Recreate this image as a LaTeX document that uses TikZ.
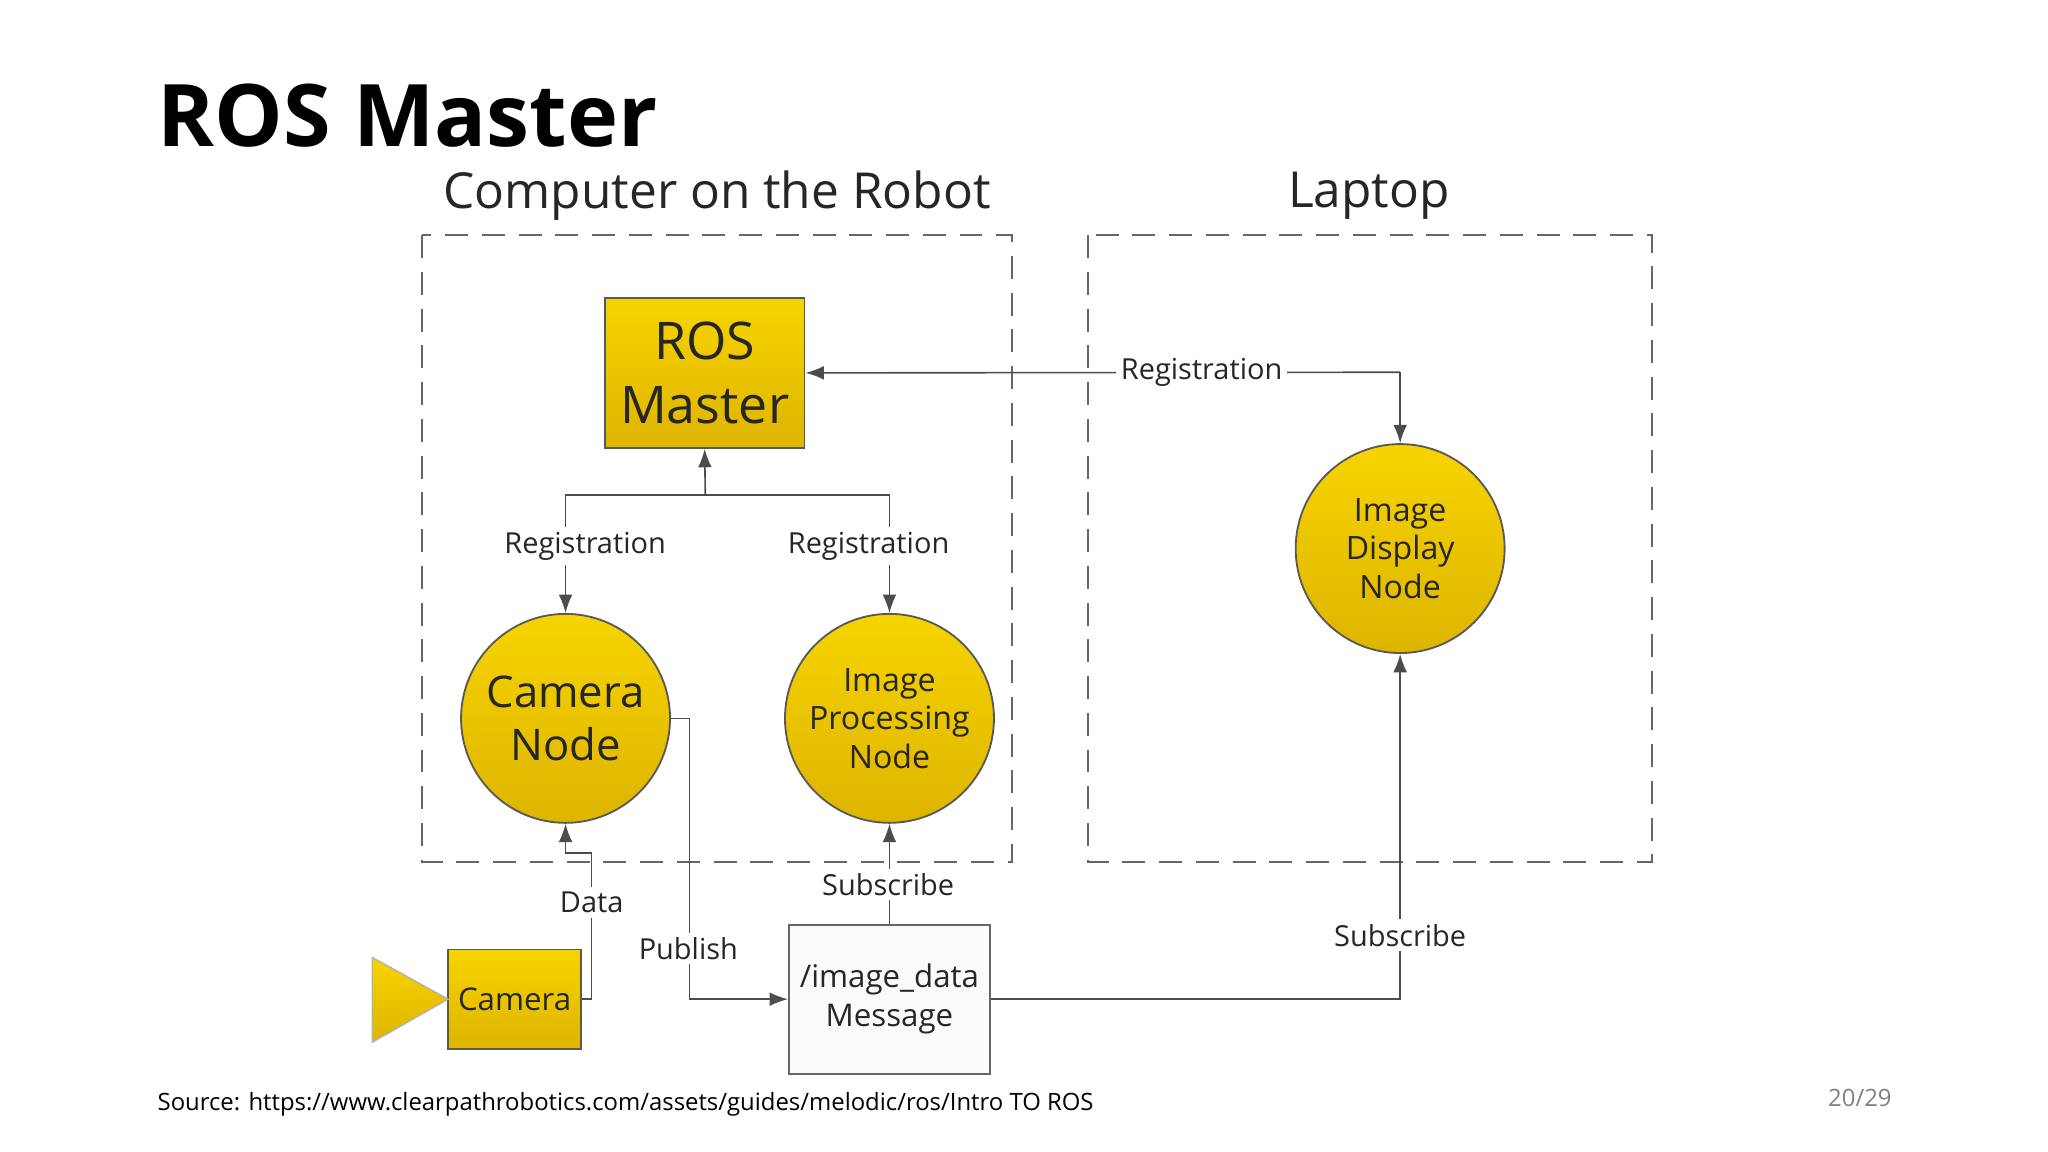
\documentclass[tikz,border=0pt]{standalone}
\usepackage{fontspec}
\setmainfont{Open Sans}
\usetikzlibrary{arrows.meta}
\definecolor{ytop}{RGB}{246,212,0}
\definecolor{ybot}{RGB}{222,180,0}
\begin{document}
\begin{tikzpicture}[x=0.01cm,y=-0.01cm,
 ln/.style={draw=black!70,line width=0.35pt},
 arr/.style={ln,-{Latex[length=4pt,width=3pt]}},
 lab/.style={fill=white,inner sep=1pt,font=\fontsize{6.3}{8}\selectfont,text=black!85},
 yel/.style={draw=black!65,line width=0.4pt,top color=ytop,bottom color=ybot,
   align=center,text=black!85,inner sep=0pt},
 dbox/.style={draw=black!60,dashed,dash pattern=on 5pt off 3pt,line width=0.35pt}]
\useasboundingbox (0,0) rectangle (1568,882);
\node[anchor=base west,inner sep=0pt,font=\bfseries\fontsize{18.8}{22}\selectfont] (title) at (120,112) {ROS Master};
\node[font=\fontsize{10.8}{13}\selectfont,text=black!85] (t1) at (549,150) {Computer on the Robot};
\node[font=\fontsize{10.8}{13}\selectfont,text=black!85] (t2) at (1048,150) {Laptop};
\draw[dbox] (323,180) rectangle (775,660);
\draw[dbox] (833,180) rectangle (1265,660);
\node[yel,rectangle,minimum width=153*0.01cm,minimum height=115*0.01cm,font=\fontsize{11.3}{14}\selectfont] (master) at (539.5,285.5) {ROS\\Master};
\node[yel,circle,minimum size=160*0.01cm,font=\fontsize{9.5}{11.5}\selectfont] (cam) at (433,550) {Camera\\Node};
\node[yel,circle,minimum size=160*0.01cm,font=\fontsize{7}{8.4}\selectfont] (proc) at (681,550) {Image\\Processing\\Node};
\node[yel,circle,minimum size=160*0.01cm,font=\fontsize{7}{8.4}\selectfont] (disp) at (1072,420) {Image\\Display\\Node};
\node[yel,rectangle,minimum width=102*0.01cm,minimum height=76*0.01cm,font=\fontsize{6.8}{8}\selectfont] (camera) at (394,765) {Camera};
\fill[top color=ytop,bottom color=ybot,draw=black!30,line width=0.3pt] (285,733) -- (343,765) -- (285,798) -- cycle;
\node[draw=black!60,fill=black!2,minimum width=154*0.01cm,minimum height=114*0.01cm,inner sep=0pt,align=center,font=\fontsize{6.8}{8.5}\selectfont,text=black!85] (msg) at (681,765) {/image\_data\\Message};
\coordinate (c1) at (1072,285);
\draw[arr] (c1) -- (master.east);
\draw[arr] (c1) -- (disp.north);
\node[lab] (r1) at (920,285) {Registration};
\coordinate (c2) at (540,379);
\coordinate (c3) at (433,379);
\coordinate (c4) at (681,379);
\draw[arr] (c2) -- (master.south);
\draw[arr] (c2) -- (c3) -- (cam.north);
\draw[arr] (c2) -- (c4) -- (proc.north);
\node[lab] (r2) at (448,418) {Registration};
\node[lab] (r3) at (665,418) {Registration};
\coordinate (p1) at (528,550);
\coordinate (p2) at (528,765);
\draw[arr] (cam.east) -- (p1) -- (p2) -- (msg.west);
\node[lab] (pl) at (527,726) {Publish};
\coordinate (d1) at (453,765);
\coordinate (d2) at (453,653);
\coordinate (d3) at (433,653);
\draw[arr] (camera.east) -- (d1) -- (d2) -- (d3) -- (cam.south);
\node[lab] (dl) at (453,691) {Data};
\draw[arr] (msg.north) -- (proc.south);
\node[lab] (s1) at (680,677) {Subscribe};
\coordinate (s0) at (1072,765);
\draw[arr] (msg.east) -- (s0) -- (disp.south);
\node[lab] (s2) at (1072,716) {Subscribe};
\node[anchor=base west,inner sep=0pt,font=\fontsize{5.2}{6}\selectfont] (src) at (120,850) {Source: https://www.clearpathrobotics.com/assets/guides/melodic/ros/Intro TO ROS};
\node[font=\fontsize{5.2}{6}\selectfont,text=black!50] (pg) at (1424,841) {20/29};
\end{tikzpicture}
\end{document}
